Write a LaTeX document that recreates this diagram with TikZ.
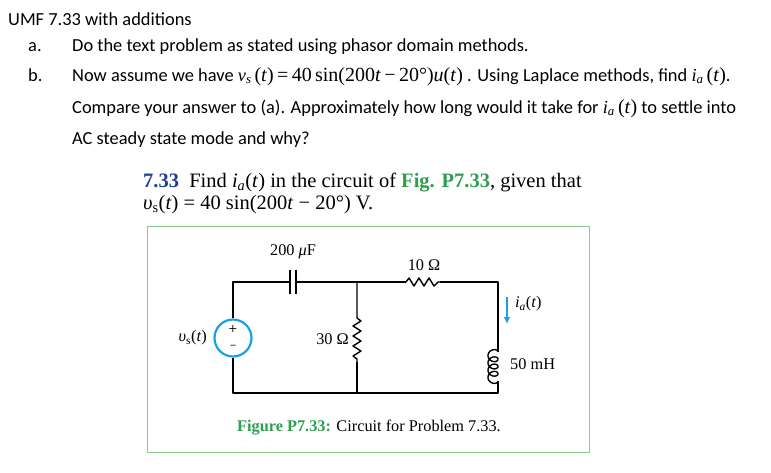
\documentclass[tikz,border=0pt]{standalone}
\usepackage{fontspec}
\usetikzlibrary{arrows.meta}
\setmainfont{Carlito}
\newfontfamily\serif{Liberation Serif}
\definecolor{srcblue}{HTML}{1BA1E2}
\definecolor{figgreen}{HTML}{2E9E4F}
\definecolor{boxgreen}{HTML}{8CCB8C}
\definecolor{numblue}{HTML}{1F3F8F}
\begin{document}
\begin{tikzpicture}[x=1pt,y=-1pt,
  txt/.style={anchor=base west,inner sep=0pt,font=\fontsize{18.4}{20}\selectfont},
  ptxt/.style={anchor=base west,inner sep=0pt,font=\serif\fontsize{20.5}{22}\selectfont},
  lbl/.style={inner sep=0pt,font=\serif\fontsize{16.3}{18}\selectfont},
  wire/.style={line width=1.4pt,line join=round}]
\useasboundingbox (0,0) rectangle (771,472);
\node[txt] (h) at (8,25) {UMF 7.33 with additions};
\node[txt] (la) at (28,51) {a.};
\node[txt] (ta) at (72,51) {Do the text problem as stated using phasor domain methods.};
\node[txt] (lb) at (28,81) {b.};
\node[txt] (tb) at (72,81) {Now assume we have {\serif\itshape v\textsubscript{s}}\,{\serif\fontsize{20}{20}\selectfont(\textit{t})\,=\,40\,sin(200\textit{t}\,−\,20°)\textit{u}(\textit{t})} . Using Laplace methods, find {\serif\itshape i\textsubscript{a}}\,{\serif\fontsize{20}{20}\selectfont(\textit{t})}.};
\node[txt] (tc) at (72,113) {Compare your answer to (a). Approximately how long would it take for {\serif\itshape i\textsubscript{a}}\,{\serif\fontsize{20}{20}\selectfont(\textit{t})} to settle into};
\node[txt] (td) at (72,144) {AC steady state mode and why?};
\node[ptxt] (p1) at (143,187) {\textcolor{numblue}{\bfseries 7.33}\enspace Find \textit{i\textsubscript{a}}(\textit{t}) in the circuit of \textcolor{figgreen}{\bfseries Fig. P7.33}, given that};
\node[ptxt] (p2) at (143,209) {\textit{υ}\textsubscript{s}(\textit{t}) = 40 sin(200\textit{t} − 20°) V.};
\draw[boxgreen,line width=1pt] (147,226) rectangle (589,452);
\coordinate (tl) at (233,282); \coordinate (tm) at (357,282); \coordinate (tr) at (498,282);
\coordinate (bl) at (233,393); \coordinate (bm) at (357,393); \coordinate (br) at (498,393);
\node[circle,draw=srcblue,line width=2.2pt,minimum size=37pt,inner sep=0pt] (src) at (233,338) {};
\node[font=\sffamily\bfseries,inner sep=0pt] (plus) at (233,329) {+};
\node[font=\sffamily\bfseries,inner sep=0pt] (minus) at (233,347) {--};
\coordinate (c1) at (290,282); \coordinate (c2) at (296,282);
\coordinate (r1a) at (406,282); \coordinate (r1b) at (440,282);
\coordinate (r2a) at (357,318); \coordinate (r2b) at (357,362);
\coordinate (la1) at (498,352); \coordinate (la2) at (498,381);
\draw[wire] (src.north) -- (tl) -- (c1);
\draw[wire] (c2) -- (tm) -- (r1a);
\draw[wire,line width=2pt] (290,270) -- (290,294); \draw[wire,line width=2pt] (296,270) -- (296,294);
\draw[wire] (r1a) -- ++(3,-4) -- ++(5,8) -- ++(5,-8) -- ++(5,8) -- ++(5,-8) -- ++(5,8) -- ++(4,-4) -- (r1b);
\draw[wire] (r1b) -- (tr) -- (la1);
\draw[wire] (tm) -- (r2a) -- ++(4,3) -- ++(-8,5) -- ++(8,5) -- ++(-8,5) -- ++(8,5) -- ++(-8,5) -- ++(8,5) -- ++(-8,5) -- ++(4,3) -- (r2b);
\draw[wire] (r2b) -- (bm);
\draw[wire] plot[domain=0:4,samples=200,variable=\t] ({498-5*(1-cos(360*\t))},{352+7.25*\t-4*sin(360*\t)});
\draw[wire] (la2) -- (br) -- (bl) -- (src.south);
\draw[srcblue,line width=1.8pt,-{Latex[length=7pt,width=7pt]}] (507,297) -- (507,324);
\node[lbl] (lc) at (293,252) {200 \textit{μ}F};
\node[lbl] (lr1) at (424,265) {10 Ω};
\node[lbl,anchor=east] (lr2) at (349,339) {30 Ω};
\node[lbl,anchor=west] (li) at (515,304) {\textit{i\textsubscript{a}}(\textit{t})};
\node[lbl,anchor=west] (ll) at (510,364) {50 mH};
\node[lbl,anchor=east] (lv) at (207,338) {\textit{υ}\textsubscript{s}(\textit{t})};
\node[lbl] (cap) at (369,428) {\textcolor{figgreen}{\bfseries Figure P7.33:} Circuit for Problem 7.33.};
\end{tikzpicture}
\end{document}
